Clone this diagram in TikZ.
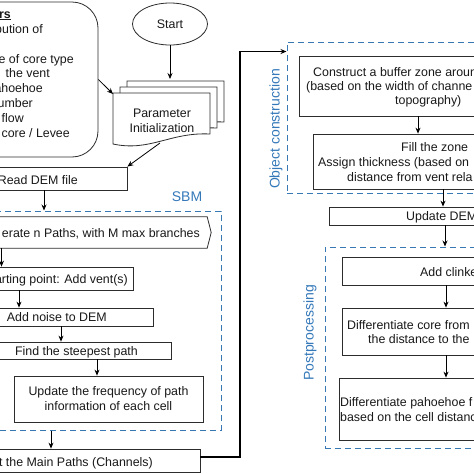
\documentclass[tikz,border=0pt]{standalone}
\usepackage{fontspec}
\setmainfont{Liberation Sans}
\usetikzlibrary{arrows.meta,shapes.geometric,calc}
\definecolor{linec}{RGB}{45,45,45}
\definecolor{txtc}{RGB}{25,25,25}
\definecolor{grpc}{RGB}{55,120,178}
\definecolor{lblc}{RGB}{52,120,185}
\begin{document}
\begin{tikzpicture}[x=1pt,y=-1pt,
  font=\fontsize{12.4}{15}\selectfont,
  box/.style={draw=linec, line width=0.8pt, fill=white, inner sep=0pt},
  grp/.style={draw=grpc, line width=1pt, dash pattern=on 6pt off 4pt, inner sep=0pt},
  arr/.style={draw=black, line width=0.8pt, -{Stealth[length=6pt,width=5pt]}},
  txt/.style={text=txtc, inner sep=0pt},
  lbl/.style={text=lblc, inner sep=0pt},
]
\useasboundingbox (0,0) rectangle (474,474);
\clip (0,0) rectangle (474,474);

% groups
\node[grp, minimum width=241pt, minimum height=219pt] (sbm) at (100.5,320.5) {};
\node[grp, minimum width=203pt, minimum height=151pt] (obj) at (388.5,117.5) {};
\node[grp, minimum width=165pt, minimum height=201pt] (post) at (407.5,347.5) {};
\node[lbl, font=\fontsize{14}{16}\selectfont] (sbml) at (187,197) {SBM};
\node[lbl, rotate=90, font=\fontsize{14}{16}\selectfont] (objl) at (276,129) {Object construction};
\node[lbl, rotate=90, font=\fontsize{14}{16}\selectfont] (postl) at (310,333) {Postprocessing};

% parameters box
\node[box, rounded corners=26pt, minimum width=158pt, minimum height=155pt] (params) at (19,79.5) {};
\node[txt, anchor=base east] (p1) at (11,18) {\underline{\textbf{rs}}};
\node[txt, anchor=base east] (p2) at (43,33) {bution of};
\node[txt, anchor=base east] (p4) at (74,63) {e of core type};
\node[txt, anchor=base east] (p5) at (50,77) {the vent};
\node[txt, anchor=base east] (p6) at (43,92) {ahoehoe};
\node[txt, anchor=base east] (p7) at (33,107) {umber};
\node[txt, anchor=base east] (p8) at (24,122) {flow};
\node[txt, anchor=base east] (p9) at (70,137) {core / Levee};

% start
\node[box, ellipse, minimum width=75pt, minimum height=42pt] (start) at (170,24) {};
\node[txt] (startt) at (170,24) {Start};

% parameter initialization (multiple documents)
\foreach \dx/\dy in {14/-12,7/-6,0/0}{
  \draw[box, shift={(\dx,\dy)}] (113,93) -- (210,93) -- (210,134)
    .. controls (170,132) and (150,152) .. (113,144) -- cycle;
}
\node[txt, align=center] (param) at (162,121) {Parameter\\Initialization};
\coordinate (docnw) at (113,94);
\coordinate (doctop) at (170,79);
\coordinate (docbot) at (160,143);

% left column boxes
\node[box, minimum width=147pt, minimum height=23pt] (read) at (53.5,178.5) {};
\node[txt, anchor=base east] (readt) at (78,184) {Read DEM file};

\node[inner sep=0pt, minimum width=231pt, minimum height=31pt] (gen) at (95.5,232.5) {};
\draw[box] (gen.north west) -- ([xshift=-4pt]gen.north east) -- (gen.east)
  -- ([xshift=-4pt]gen.south east) -- (gen.south west) -- cycle;
\node[txt, anchor=base east] (gent) at (200,237) {erate n Paths, with M max branches};

\node[box, minimum width=153pt, minimum height=23pt] (stp) at (56.5,278.5) {};
\node[txt, anchor=base east] (stpt) at (128,283) {arting point: Add vent(s)};

\node[box, minimum width=193pt, minimum height=18pt] (noise) at (56.5,317) {};
\node[txt, anchor=base east] (noiset) at (107,321) {Add noise to DEM};

\node[box, minimum width=191pt, minimum height=17pt] (steep) at (75.5,350.5) {};
\node[txt, anchor=base east] (steept) at (138,355) {Find the steepest path};

\node[box, minimum width=189pt, minimum height=46pt, align=center, text=txtc] (freq) at (108.5,399)
  {Update the frequency of path\\information of each cell};

\node[box, minimum width=220pt, minimum height=23pt] (main) at (90,460.5) {};
\node[txt, anchor=base east] (maint) at (153,466) {t the Main Paths (Channels)};

% right column boxes
\node[box, minimum width=191pt, minimum height=60pt] (buffer) at (394.5,86) {};
\node[txt, anchor=base west] (b1) at (313,76) {Construct a buffer zone aroun};
\node[txt, anchor=base west] (b2) at (306,90) {(based on the width of channe};
\node[txt, anchor=base west] (b3) at (395,104) {topography)};

\node[box, minimum width=177pt, minimum height=55pt] (fill) at (401.5,161.5) {};
\node[txt, anchor=base west] (f1) at (401,151) {Fill the zone};
\node[txt, anchor=base west] (f2) at (318,166) {Assign thickness (based on};
\node[txt, anchor=base west] (f3) at (347,181) {distance from vent rela};

\node[box, minimum width=161pt, minimum height=18pt] (upd) at (409.5,216) {};
\node[txt, anchor=base west] (updt) at (406,220) {Update DEM};

\node[box, minimum width=148pt, minimum height=28pt] (clink) at (416,271) {};
\node[txt, anchor=base west] (clinkt) at (420,276) {Add clinke};

\node[box, minimum width=148pt, minimum height=47pt] (core) at (416,331.5) {};
\node[txt, anchor=base west] (c1) at (347,329) {Differentiate core from};
\node[txt, anchor=base west] (c2) at (368,343) {the distance to the};

\node[box, minimum width=151pt, minimum height=62pt] (pahoe) at (414.5,409) {};
\node[txt, anchor=base west] (h1) at (340,406) {Differentiate pahoehoe f};
\node[txt, anchor=base west] (h2) at (340,421) {based on the cell distanc};

% x positions for vertical connectors
\coordinate (xa) at (44,0);
\coordinate (xb) at (1.5,0);
\coordinate (xc) at (19,0);
\coordinate (xd) at (61,0);
\coordinate (xe) at (97,0);
\coordinate (xf) at (51,0);
\coordinate (xg) at (418,0);
\coordinate (xh) at (443,0);
\coordinate (xi) at (445,0);
\coordinate (xj) at (446,0);
\coordinate (xr) at (240,0);

% connectors
\draw[arr] (start.south) -- (doctop);
\draw[arr] (params.east) -- (docnw);
\draw[arr] (docbot) -- (read.north east);
\draw[arr] (read.south -| xa) -- (sbm.north -| xa);
\draw[arr] (gen.south -| xb) -- (stp.north -| xb);
\draw[arr] (stp.south -| xc) -- (noise.north -| xc);
\draw[arr] (noise.south -| xd) -- (steep.north -| xd);
\draw[arr] (steep.south -| xe) -- (freq.north -| xe);
\draw[arr] (sbm.south -| xf) -- (main.north -| xf);
\coordinate (mout) at ([yshift=3.5pt]main.east);
\coordinate (oin) at ([yshift=-10pt]obj.north west);
\draw[arr, line width=1.2pt] (mout) -| (xr |- oin) -- (oin);
\draw[arr] (buffer.south -| xg) -- (fill.north -| xg);
\draw[arr] (fill.south -| xh) -- (upd.north -| xh);
\draw[arr] (upd.south -| xi) -- (post.north -| xi);
\draw[arr] (clink.south -| xj) -- (core.north -| xj);
\draw[arr] (core.south -| xj) -- (pahoe.north -| xj);
\end{tikzpicture}
\end{document}
